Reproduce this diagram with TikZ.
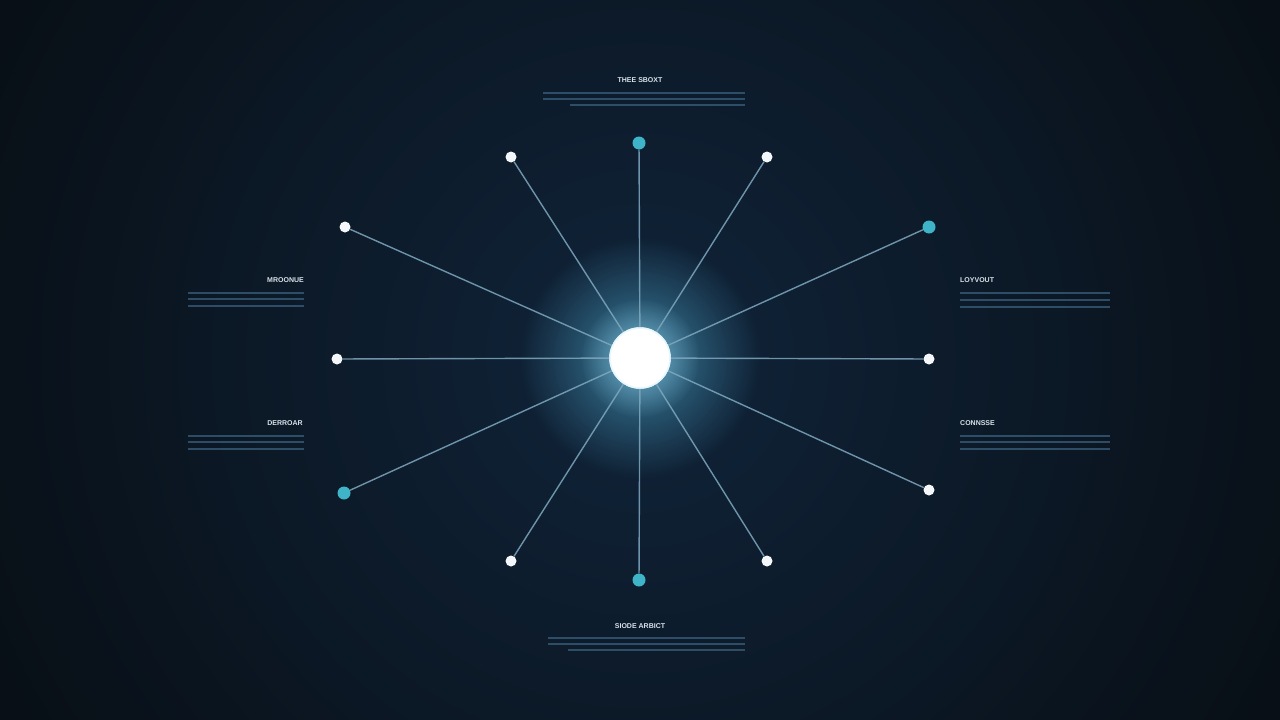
\documentclass[tikz,border=0pt]{standalone}
\usepackage{fontspec}
\setsansfont{Liberation Sans}
\usetikzlibrary{fadings}

\definecolor{bgin}{HTML}{10243A}
\definecolor{bgout}{HTML}{080F16}
\definecolor{spoke}{HTML}{7FA9C0}
\definecolor{tealdot}{HTML}{3FB4C8}
\definecolor{glow}{HTML}{5FC8F0}
\definecolor{rule}{HTML}{3A5F7C}
\definecolor{labeltext}{HTML}{D8E2EA}

\tikzfading[name=hub fade,inner color=transparent!0,outer color=transparent!100]

\begin{document}
\begin{tikzpicture}[x=1pt,y=-1pt,
			hub node/.style={circle,fill=white,draw=white!85!glow,line width=1.5pt,minimum size=60pt,inner sep=0pt},
			white node/.style={circle,fill=white!92!spoke,minimum size=11pt,inner sep=0pt},
			teal node/.style={circle,fill=tealdot,minimum size=13pt,inner sep=0pt},
			spoke line/.style={spoke,line width=1.4pt,opacity=0.85},
			title text/.style={text=labeltext,font=\sffamily\bfseries\fontsize{7}{8}\selectfont,inner sep=0pt},
			rule line/.style={rule,line width=1.2pt,opacity=0.75}
			]

			% background with vignette
			\useasboundingbox (0,0) rectangle (1280,720);
			\fill[bgout] (0,0) rectangle (1280,720);
			\shade[inner color=bgin,outer color=bgout] (640,358) circle (720);

			% glow round the hub
			\fill[glow,opacity=0.55,path fading=hub fade] (640,358) circle (120);
			\fill[glow!60!white,opacity=0.6,path fading=hub fade] (640,358) circle (60);

			\node[hub node] at (640,358) (hub) {};

			% outer points
			\node[teal node] at (639,143) (n) {};
			\node[white node] at (511,157) (nnw) {};
			\node[white node] at (767,157) (nne) {};
			\node[white node] at (345,227) (wnw) {};
			\node[teal node] at (929,227) (ene) {};
			\node[white node] at (337,359) (w) {};
			\node[white node] at (929,359) (e) {};
			\node[teal node] at (344,493) (wsw) {};
			\node[white node] at (929,490) (ese) {};
			\node[white node] at (511,561) (ssw) {};
			\node[white node] at (767,561) (sse) {};
			\node[teal node] at (639,580) (s) {};

			\foreach \p in {n,nnw,nne,wnw,ene,w,e,wsw,ese,ssw,sse,s}
				\draw[spoke line] (hub) -- (\p);
			\node[hub node] at (640,358) {};

			% labels and rules
			\node[title text] at (640,80) (topt) {THEE SBOXT};
			\draw[rule line] (543,93) -- (745,93);
			\draw[rule line] (543,99) -- (745,99);
			\draw[rule line] (570,105) -- (745,105);

			\node[title text,anchor=east] at (304,280) (lt1) {MROONUE};
			\draw[rule line] (188,293) -- (304,293);
			\draw[rule line] (188,299) -- (304,299);
			\draw[rule line] (188,306) -- (304,306);

			\node[title text,anchor=east] at (303,423) (lt2) {DERROAR};
			\draw[rule line] (188,436) -- (304,436);
			\draw[rule line] (188,442) -- (304,442);
			\draw[rule line] (188,449) -- (304,449);

			\node[title text,anchor=west] at (960,280) (rt1) {LOYVOUT};
			\draw[rule line] (960,293) -- (1110,293);
			\draw[rule line] (960,300) -- (1110,300);
			\draw[rule line] (960,307) -- (1110,307);

			\node[title text,anchor=west] at (960,423) (rt2) {CONNSSE};
			\draw[rule line] (960,436) -- (1110,436);
			\draw[rule line] (960,442) -- (1110,442);
			\draw[rule line] (960,449) -- (1110,449);

			\node[title text] at (640,626) (bott) {SIODE ARBICT};
			\draw[rule line] (548,638) -- (745,638);
			\draw[rule line] (548,644) -- (745,644);
			\draw[rule line] (568,650) -- (745,650);
		\end{tikzpicture}
\end{document}
